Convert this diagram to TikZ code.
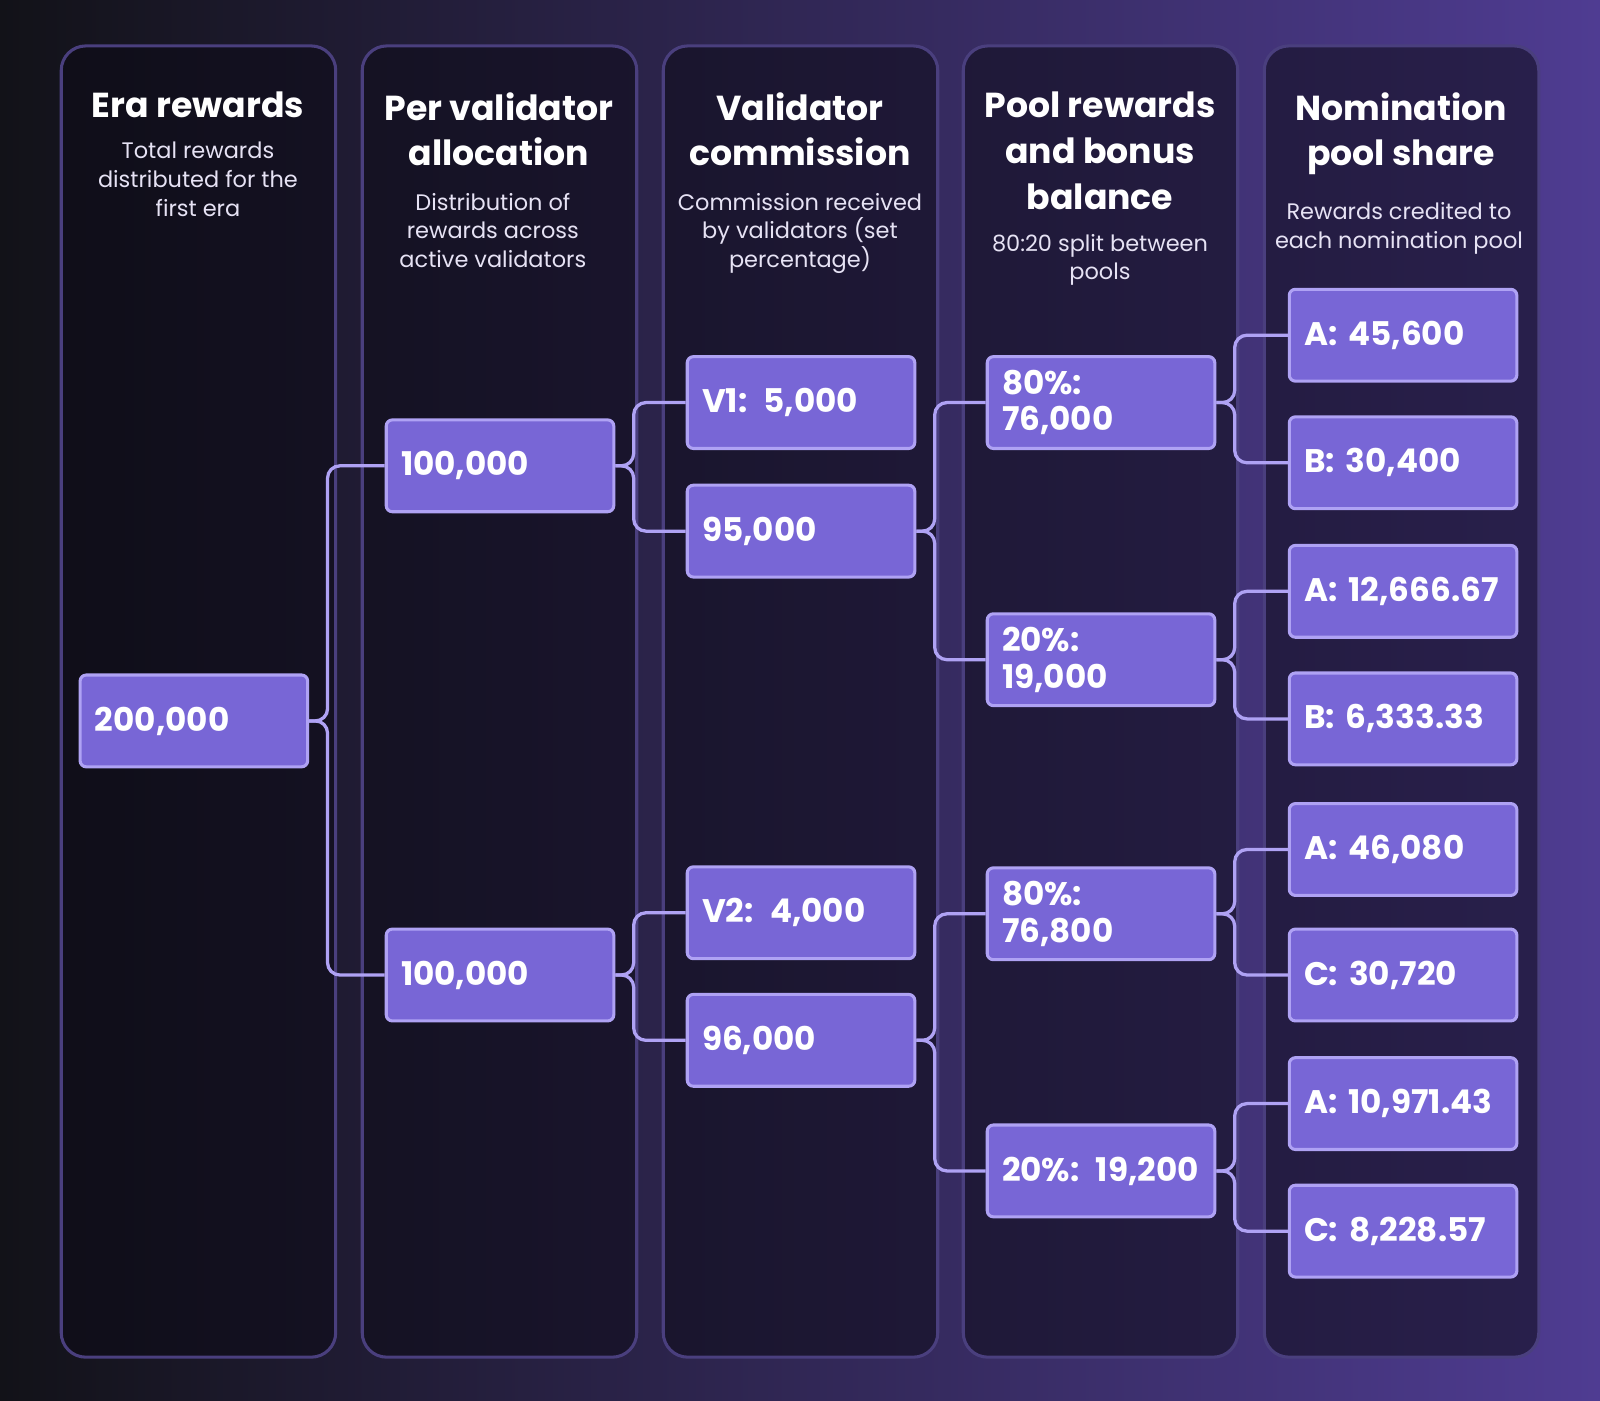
\documentclass[tikz,border=0pt]{standalone}
\usepackage{fontspec}
\setmainfont{Poppins}
\begin{document}
\begin{tikzpicture}[x=0.5pt,y=-0.5pt,
  col/.style={draw=colborder,line width=1.5pt,fill=coldark,fill opacity=0.55,rounded corners=12pt},
  val/.style={draw=boxborder,line width=1.5pt,fill=boxfill,rounded corners=3pt,text=white,font=\fontsize{16}{18}\selectfont\bfseries,anchor=north west,minimum width=111.5pt,minimum height=45pt,inner sep=0pt,inner xsep=7pt,align=left,text width=97pt},
  ttl/.style={text=white,font=\fontsize{17}{22.5}\selectfont\bfseries,align=center,anchor=north,inner sep=0pt},
  sub/.style={text=subc,font=\fontsize{11}{14}\selectfont,align=center,anchor=north,inner sep=0pt},
  con/.style={draw=boxborder,line width=1.6pt,rounded corners=6pt}]
\definecolor{bgl}{HTML}{121218}
\definecolor{bgr}{HTML}{4F3C92}
\definecolor{colborder}{HTML}{4A3F7E}
\definecolor{coldark}{HTML}{0C0A16}
\definecolor{boxfill}{HTML}{7866D6}
\definecolor{boxborder}{HTML}{AFA2F4}
\definecolor{subc}{HTML}{E6E2F4}
\useasboundingbox (0,0) rectangle (1568,1372);
\shade[left color=bgl,right color=bgr] (0,0) rectangle (1568,1372);
\shade[inner color=bgr,outer color=bgr,opacity=0] (0,0) rectangle (1,1);
\foreach \x in {60,355,650,944,1239}{\path[col] (\x,45) rectangle ++(269,1285);}
% headers
\node[ttl] (t1) at (194,90) {Era rewards};
\node[sub] (s1) at (194,139) {Total rewards\\distributed for the\\first era};
\node[ttl] (t2) at (489,90) {Per validator\\allocation};
\node[sub] (s2) at (483,189) {Distribution of\\rewards across\\active validators};
\node[ttl] (t3) at (784,90) {Validator\\commission};
\node[sub] (s3) at (784,189) {Commission received\\by validators (set\\percentage)};
\node[ttl] (t4) at (1078,90) {Pool rewards\\and bonus\\balance};
\node[sub] (s4) at (1078,229) {80:20 split between\\pools};
\node[ttl] (t5) at (1373,90) {Nomination\\pool share};
\node[sub] (s5) at (1371,198) {Rewards credited to\\each nomination pool};
% boxes
\node[val] (r) at (77,660) {200,000};
\node[val] (a1) at (377,410) {100,000};
\node[val] (a2) at (377,909) {100,000};
\node[val] (v1) at (672,348) {V1: 5,000};
\node[val] (n1) at (672,474) {95,000};
\node[val] (v2) at (672,848) {V2: 4,000};
\node[val] (n2) at (672,973) {96,000};
\node[val] (p1) at (966,348) {80\%: 76,000};
\node[val] (p2) at (966,600) {20\%: 19,000};
\node[val] (p3) at (966,849) {80\%: 76,800};
\node[val] (p4) at (966,1101) {20\%: 19,200};
\node[val] (q1) at (1262,282) {A: 45,600};
\node[val] (q2) at (1262,407) {B: 30,400};
\node[val] (q3) at (1262,533) {A: 12,666.67};
\node[val] (q4) at (1262,658) {B: 6,333.33};
\node[val] (q5) at (1262,786) {A: 46,080};
\node[val] (q6) at (1262,909) {C: 30,720};
\node[val] (q7) at (1262,1035) {A: 10,971.43};
\node[val] (q8) at (1262,1160) {C: 8,228.57};
% connectors
\foreach \p/\c in {r/a1,r/a2,a1/v1,a1/n1,a2/v2,a2/n2,n1/p1,n1/p2,n2/p3,n2/p4,p1/q1,p1/q2,p2/q3,p2/q4,p3/q5,p3/q6,p4/q7,p4/q8}{
  \draw[con] (\p.east) -- ++(18,0) |- (\c.west);}
\end{tikzpicture}
\end{document}
